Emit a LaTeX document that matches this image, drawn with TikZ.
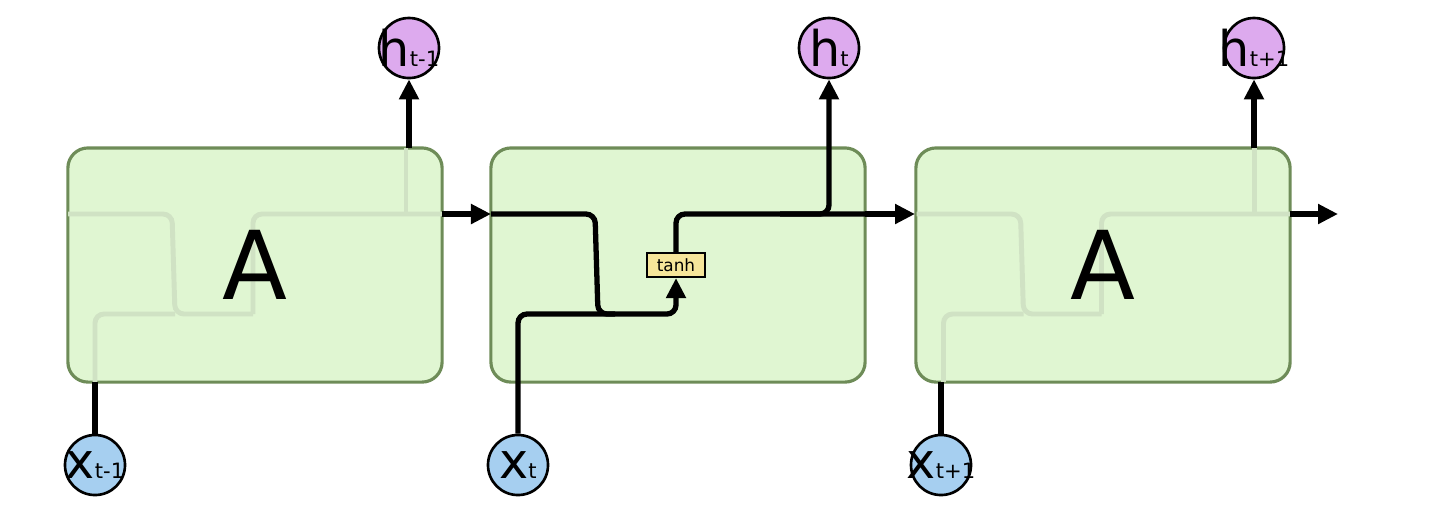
\documentclass[tikz,border=0pt]{standalone}
\usepackage{fontspec}
\setmainfont{DejaVu Sans}
\usetikzlibrary{arrows.meta}
\definecolor{boxfill}{HTML}{E0F6D2}
\definecolor{boxline}{HTML}{6E8C58}
\definecolor{ghost}{HTML}{D0E2C4}
\definecolor{hfill}{HTML}{DDAAEE}
\definecolor{xfill}{HTML}{A6CFF0}
\definecolor{tanhfill}{HTML}{F6E69A}
\newcommand{\hlab}[2]{{\fontsize{14}{14}\selectfont #1}{\fontsize{6}{6}\selectfont #2}}
\newcommand{\ghostpath}{%
  \draw[ghostw] (68,214) -- (172,214) -- (175,314) -- (253,314);
  \draw[ghostw] (95,382) -- (95,314) -- (175,314);
  \draw[ghostw] (253,314) -- (253,214) -- (442,214);
  \draw[ghostw] (406,214) -- (406,148);}
\tikzset{
  x=0.01cm,y=-0.01cm,
  box/.style={draw=boxline,line width=0.9pt,fill=boxfill,rounded corners=0.2cm,minimum width=3.74cm,minimum height=2.34cm},
  hc/.style={circle,draw=black,line width=0.75pt,fill=hfill,minimum size=0.6cm,inner sep=0pt},
  xc/.style={circle,draw=black,line width=0.75pt,fill=xfill,minimum size=0.6cm,inner sep=0pt},
  lab/.style={inner sep=0pt},
  wire/.style={line width=1.5pt,rounded corners=0.09cm},
  arr/.style={wire,-{Triangle[length=0.2cm,width=0.19cm]}},
  ghostw/.style={line width=1.4pt,ghost,rounded corners=0.09cm},
}
\begin{document}
\begin{tikzpicture}
\useasboundingbox (0,0) rectangle (1452,514);
% boxes
\node[box] (b1) at (255,265) {};
\node[box] (b2) at (678,265) {};
\node[box] (b3) at (1103,265) {};
% ghost wiring
\ghostpath
\begin{scope}[xshift=8.48cm]\ghostpath\end{scope}
\node at (b1) {\fontsize{27}{27}\selectfont A};
\node at (b3) {\fontsize{27}{27}\selectfont A};
% circles
\node[hc] (h1) at (409,48) {};
\node[hc] (h2) at (829,48) {};
\node[hc] (h3) at (1254,48) {};
\node[xc] (x1) at (95,465) {};
\node[xc] (x2) at (518,465) {};
\node[xc] (x3) at (941,465) {};
\node[lab] at (h1) {\hlab{h}{t-1}};
\node[lab] at (h2) {\hlab{h}{t}};
\node[lab] at (h3) {\hlab{h}{t+1}};
\node[lab] at (x1) {\hlab{x}{t-1}};
\node[lab] at (x2) {\hlab{x}{t}};
\node[lab] at (x3) {\hlab{x}{t+1}};
% tanh
\node[draw=black,line width=0.6pt,fill=tanhfill,minimum width=0.58cm,minimum height=0.24cm,inner sep=0pt] (tanh) at (676,265) {\fontsize{4.8}{5}\selectfont tanh};
% coordinates
\coordinate (o1) at (442,214); \coordinate (i2) at (491,214);
\coordinate (o2) at (865,214); \coordinate (i3) at (915,214);
\coordinate (o3) at (1290,214); \coordinate (e3) at (1338,214);
\coordinate (m) at (598,314);
\coordinate (t1) at (409,148); \coordinate (t3) at (1254,148);
\coordinate (u1) at (95,382); \coordinate (u3) at (941,382);
% outer wires
\draw[arr] (o1) -- (i2);
\draw[arr] (o2) -- (i3);
\draw[arr] (o3) -- (e3);
\draw[arr] (t1) -- (h1.south);
\draw[arr] (t3) -- (h3.south);
\draw[wire] (x1.north) -- (u1);
\draw[wire] (x3.north) -- (u3);
% middle cell wires
\draw[wire] (i2) -- (595,214) -- (m) -- (615,314);
\draw[arr] (x2.north) -- (518,314) -- (676,314) -- (tanh.south);
\draw[wire] (tanh.north) -- (676,214) -- (o2);
\draw[arr] (780,214) -- (829,214) -- (h2.south);
\end{tikzpicture}
\end{document}
